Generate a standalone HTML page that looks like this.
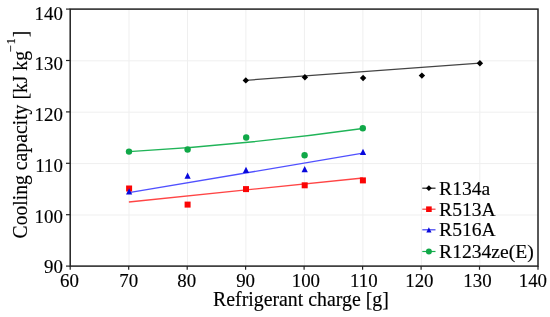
<!DOCTYPE html>
<html><head><meta charset="utf-8"><title>Cooling capacity</title>
<style>
html,body{margin:0;padding:0;background:#fff;}
body{width:550px;height:317px;overflow:hidden;}
svg{display:block;}
text{font-family:"Liberation Serif","Times New Roman",serif;font-size:19.6px;fill:#000;stroke:#000;stroke-width:0.15px;}
</style></head><body>
<svg width="550" height="317" viewBox="0 0 550 317">
<rect width="550" height="317" fill="#fff"/>

<g stroke="#efefef" stroke-width="1"><line x1="129.0" y1="9.1" x2="129.0" y2="266.1"/><line x1="187.5" y1="9.1" x2="187.5" y2="266.1"/><line x1="245.9" y1="9.1" x2="245.9" y2="266.1"/><line x1="304.4" y1="9.1" x2="304.4" y2="266.1"/><line x1="362.9" y1="9.1" x2="362.9" y2="266.1"/><line x1="421.4" y1="9.1" x2="421.4" y2="266.1"/><line x1="479.8" y1="9.1" x2="479.8" y2="266.1"/><line x1="70.2" y1="215.0" x2="538.0" y2="215.0"/><line x1="70.2" y1="163.6" x2="538.0" y2="163.6"/><line x1="70.2" y1="112.2" x2="538.0" y2="112.2"/><line x1="70.2" y1="60.8" x2="538.0" y2="60.8"/></g>
<g fill="none" stroke-width="1.2">
<line x1="245.6" y1="80.3" x2="479.8" y2="63.2" stroke="#444"/>
<line x1="128.9" y1="202" x2="362.9" y2="178" stroke="#ff4545" stroke-width="1.3"/>
<line x1="128.9" y1="192.7" x2="362.9" y2="153.2" stroke="#5050ff" stroke-width="1.3"/>
<path d="M129 151.65 Q245.85 144.88 362.7 128.5" stroke="#20b458" stroke-width="1.4"/>
</g>
<g fill="#000"><path d="M242.6 80.4L245.8 77.2L249.0 80.4L245.8 83.6Z"/><path d="M301.7 77.3L304.9 74.1L308.1 77.3L304.9 80.5Z"/><path d="M359.9 78.0L363.1 74.8L366.3 78.0L363.1 81.2Z"/><path d="M418.7 75.6L421.9 72.4L425.1 75.6L421.9 78.8Z"/><path d="M476.7 63.3L479.9 60.1L483.1 63.3L479.9 66.5Z"/></g>
<g fill="#fb0505"><rect x="126.1" y="185.5" width="6.0" height="6.0"/><rect x="184.6" y="201.6" width="6.0" height="6.0"/><rect x="243.0" y="186.1" width="6.0" height="6.0"/><rect x="301.7" y="182.3" width="6.0" height="6.0"/><rect x="359.9" y="177.4" width="6.0" height="6.0"/></g>
<g fill="#0808dc"><path d="M126.0 194.4L129.1 188.2L132.2 194.4Z"/><path d="M184.5 178.7L187.6 172.5L190.7 178.7Z"/><path d="M242.9 172.9L246.0 166.7L249.1 172.9Z"/><path d="M301.6 172.2L304.7 166.0L307.8 172.2Z"/><path d="M359.9 154.9L363.0 148.7L366.1 154.9Z"/></g>
<g fill="#10a848"><circle cx="129.0" cy="151.6" r="3.2"/><circle cx="187.6" cy="149.5" r="3.2"/><circle cx="246.2" cy="137.5" r="3.2"/><circle cx="304.6" cy="155.3" r="3.2"/><circle cx="362.8" cy="128.2" r="3.2"/></g>
<rect x="70.2" y="9.1" width="467.8" height="257.0" fill="none" stroke="#222" stroke-width="1.5"/>
<g stroke="#222" stroke-width="1.2"><line x1="70.2" y1="266.1" x2="70.2" y2="269.8"/><line x1="128.7" y1="266.1" x2="128.7" y2="269.8"/><line x1="187.2" y1="266.1" x2="187.2" y2="269.8"/><line x1="245.6" y1="266.1" x2="245.6" y2="269.8"/><line x1="304.1" y1="266.1" x2="304.1" y2="269.8"/><line x1="362.6" y1="266.1" x2="362.6" y2="269.8"/><line x1="421.1" y1="266.1" x2="421.1" y2="269.8"/><line x1="479.5" y1="266.1" x2="479.5" y2="269.8"/><line x1="538.0" y1="266.1" x2="538.0" y2="269.8"/><line x1="66.0" y1="266.1" x2="70.2" y2="266.1"/><line x1="66.0" y1="214.7" x2="70.2" y2="214.7"/><line x1="66.0" y1="163.3" x2="70.2" y2="163.3"/><line x1="66.0" y1="111.9" x2="70.2" y2="111.9"/><line x1="66.0" y1="60.5" x2="70.2" y2="60.5"/><line x1="66.0" y1="9.1" x2="70.2" y2="9.1"/></g>
<text transform="translate(69.5,287.0) scale(1,1.045)" style="font-size:18.9px" text-anchor="middle">60</text>
<text transform="translate(128.7,287.0) scale(1,1.045)" style="font-size:18.9px" text-anchor="middle">70</text>
<text transform="translate(186.8,287.0) scale(1,1.045)" style="font-size:18.9px" text-anchor="middle">80</text>
<text transform="translate(245.6,287.0) scale(1,1.045)" style="font-size:18.9px" text-anchor="middle">90</text>
<text transform="translate(305.9,287.0) scale(1,1.045)" style="font-size:18.9px" text-anchor="middle">100</text>
<text transform="translate(363.8,287.0) scale(1,1.045)" style="font-size:18.9px" text-anchor="middle">110</text>
<text transform="translate(419.4,287.0) scale(1,1.045)" style="font-size:18.9px" text-anchor="middle">120</text>
<text transform="translate(477.5,287.0) scale(1,1.045)" style="font-size:18.9px" text-anchor="middle">130</text>
<text transform="translate(532.9,287.0) scale(1,1.045)" style="font-size:18.9px" text-anchor="middle">140</text>
<text transform="translate(62.9,19.5) scale(1,1.045)" style="font-size:18.9px" text-anchor="end">140</text>
<text transform="translate(62.9,70.3) scale(1,1.045)" style="font-size:18.9px" text-anchor="end">130</text>
<text transform="translate(62.9,121.0) scale(1,1.045)" style="font-size:18.9px" text-anchor="end">120</text>
<text transform="translate(62.9,171.8) scale(1,1.045)" style="font-size:18.9px" text-anchor="end">110</text>
<text transform="translate(62.9,222.5) scale(1,1.045)" style="font-size:18.9px" text-anchor="end">100</text>
<text transform="translate(62.9,273.3) scale(1,1.045)" style="font-size:18.9px" text-anchor="end">90</text>
<text transform="translate(300.9,306.2) scale(1,1.03)" style="font-size:19.85px" text-anchor="middle">Refrigerant charge [g]</text>
<text transform="translate(26.5,134.6) rotate(-90) scale(1,1.05)" style="font-size:19.7px" text-anchor="middle">Cooling capacity [kJ kg<tspan dy="-11.3" dx="-1.2 1.2" style="font-size:12px">−1</tspan><tspan dy="11.3" dx="0.9">]</tspan></text>
<line x1="422.3" y1="188.2" x2="435.5" y2="188.2" stroke="#222" stroke-width="1.2"/>
<text transform="translate(439.1,194.6) scale(1,0.96)" style="font-size:19.6px" text-anchor="start">R134a</text>
<line x1="422.3" y1="209.2" x2="435.5" y2="209.2" stroke="#f04040" stroke-width="1.2"/>
<text transform="translate(439.1,215.6) scale(1,0.96)" style="font-size:19.6px" text-anchor="start">R513A</text>
<line x1="422.3" y1="229.8" x2="435.5" y2="229.8" stroke="#4040f0" stroke-width="1.2"/>
<text transform="translate(439.1,236.2) scale(1,0.96)" style="font-size:19.6px" text-anchor="start">R516A</text>
<line x1="422.3" y1="251.5" x2="435.5" y2="251.5" stroke="#18b050" stroke-width="1.2"/>
<text transform="translate(439.1,257.9) scale(1,0.96)" style="font-size:19.6px" text-anchor="start">R1234ze(E)</text>
<g fill="#000"><path d="M426.0 188.2L428.9 185.3L431.8 188.2L428.9 191.1Z"/></g>
<g fill="#fb0505"><rect x="426.1" y="206.4" width="5.6" height="5.6"/></g>
<g fill="#0808dc"><path d="M426.3 232.4L428.9 227.2L431.5 232.4Z"/></g>
<g fill="#10a848"><circle cx="428.9" cy="251.5" r="3.0"/></g>
</svg></body></html>
